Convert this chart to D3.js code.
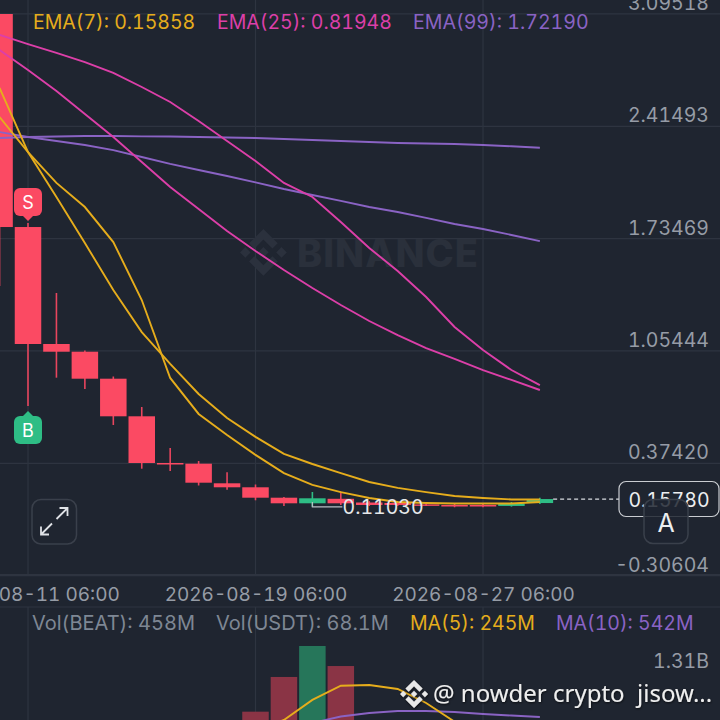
<!DOCTYPE html>
<html><head><meta charset="utf-8">
<script src="https://cdn.jsdelivr.net/npm/d3@7"></script>
<style>html,body{margin:0;padding:0;background:#1f2530}svg{display:block}text{font-family:Inter,sans-serif;font-variant-numeric:tabular-nums;font-feature-settings:"tnum"}</style>
</head><body><svg id="c" width="720" height="720"></svg>
<script>
const dates=["08-10","08-11","08-12","08-13","08-14","08-15","08-16","08-17","08-18","08-19","08-20","08-21","08-22","08-23","08-24","08-25","08-26","08-27","08-28","08-29"];
const open =[3.095,1.805,1.0966,1.050,0.8865,0.6588,0.376,0.3718,0.2531,0.2289,0.1659,0.132,0.1593,0.1368,0.134,0.125,0.1217,0.1217,0.116,0.1335];
const close=[1.805,1.0966,1.050,0.8865,0.6588,0.376,0.3669,0.2567,0.2289,0.1659,0.132,0.1623,0.132,0.1217,0.122,0.1217,0.1126,0.1126,0.131,0.1578];
const high =[3.095,1.83,1.4055,1.0573,0.8998,0.7151,0.4669,0.3881,0.3197,0.2458,0.1701,0.2004,0.2035,0.145,0.14,0.135,0.128,0.128,0.14,0.165];
const low  =[1.448,0.721,0.8926,0.8242,0.6061,0.3415,0.3276,0.2398,0.2143,0.1501,0.1156,0.1103,0.1217,0.116,0.116,0.115,0.108,0.108,0.112,0.128];
const ema7a =[2.647,2.259,1.987,1.708,1.424,1.169,0.976,0.794,0.649,0.534,0.431,0.370,0.315,0.261,0.225,0.200,0.176,0.164,0.155,0.155];
const ema7b =[2.471,2.259,2.072,1.926,1.714,1.363,0.891,0.673,0.546,0.425,0.315,0.243,0.200,0.164,0.140,0.134,0.131,0.131,0.131,0.140];
const ema25a=[2.968,2.913,2.859,2.804,2.738,2.653,2.562,2.447,2.326,2.205,2.072,1.987,1.835,1.678,1.539,1.381,1.200,1.060,0.939,0.848];
const ema25b=[2.877,2.756,2.629,2.489,2.350,2.199,2.047,1.914,1.781,1.660,1.545,1.436,1.333,1.236,1.151,1.072,1.006,0.939,0.879,0.818];
const ema99a=[2.344,2.350,2.353,2.356,2.356,2.354,2.353,2.350,2.347,2.344,2.338,2.332,2.326,2.320,2.314,2.311,2.308,2.302,2.294,2.285];
const ema99b=[2.380,2.350,2.326,2.302,2.271,2.229,2.187,2.150,2.114,2.075,2.035,1.999,1.963,1.926,1.896,1.860,1.823,1.793,1.757,1.720];
const volume=[400,420,380,340,320,300,280,360,372,615,1091,1516,1241,442,340,250,200,210,320,458];
const ma5 =[null,null,null,null,null,null,null,null,null,360,501,776,971,981,926,734,477,350,280,245];
const ma10=[null,null,null,null,null,null,null,null,null,null,null,460,549,597,624,624,610,583,562,542];
const priceTicks=[3.09518,2.41493,1.73469,1.05444,0.37420,-0.30604];
const timeTicks=["08-11","08-19","08-27"];
const volTicks=[1310];
const legendTop=[["EMA(7): 0.15858",33,"#e6ad1c",19.5],["EMA(25): 0.81948",217,"#dc3fa8",19.5],["EMA(99): 1.72190",413,"#8a63c4",19.6]];
const legendVol=[["Vol(BEAT): 458M",32,"#7e8794",20],["Vol(USDT): 68.1M",216,"#7e8794",20],["MA(5): 245M",410,"#e6ad1c",19.5],["MA(10): 542M",556,"#8a63c4",19.5]];
const lowPrice=0.11030, lastPrice=0.15780;

const BG="#1f2530",GRID="#2e3440",RED="#fb4a63",GREEN="#2ebd85",AX="#969ca6";
const LOGO="M16.624 13.9202l2.7175 2.7154-7.353 7.353-7.353-7.352 2.7175-2.7164 4.6355 4.6595 4.6356-4.6595zm4.6366-4.6366L24 12l-2.7154 2.7164L18.5682 12l2.6924-2.7164zm-9.272.001l2.7163 2.6914-2.7164 2.7174v-.001L9.2721 12l2.7164-2.7154zm-9.2722-.001L5.4088 12l-2.6914 2.6924L0 12l2.7164-2.7164zM11.9885.0115l7.353 7.329-2.7174 2.7154-4.6356-4.6356-4.6355 4.6595-2.7174-2.7154 7.353-7.353z";
const d=s=>new Date("2026-"+s+"T06:00:00Z");
const x=d3.scaleUtc().domain([d("08-11"),d("08-27")]).range([28,483]);
const y=d3.scaleLinear().domain([0.37420,2.41493]).range([463.3,126.3]);
const yv=d3.scaleLinear().domain([0,1310]).range([756.5,661]);
const svg=d3.select("#c");
svg.append("rect").attr("width",720).attr("height",720).attr("fill",BG);
const defs=svg.append("defs");
defs.append("clipPath").attr("id","pc").append("rect").attr("x",0).attr("y",14).attr("width",720).attr("height",561);

// grid
const g=svg.append("g").attr("stroke",GRID).attr("stroke-width",1.2);
priceTicks.forEach(t=>g.append("line").attr("x1",0).attr("x2",720).attr("y1",y(t)).attr("y2",y(t)));
g.selectAll(".v").data(timeTicks).join("g").each(function(t){
  const s=d3.select(this),X=x(d(t));
  s.append("line").attr("x1",X).attr("x2",X).attr("y1",0).attr("y2",575);
  s.append("line").attr("x1",X).attr("x2",X).attr("y1",607).attr("y2",720);
});
g.append("line").attr("x1",0).attr("x2",720).attr("y1",607).attr("y2",607);

// watermark
svg.append("path").attr("d",LOGO).attr("fill","#2b313d").attr("transform","translate(240,229) scale(1.95)");
svg.append("text").attr("x",297).attr("y",267).attr("font-size",38).attr("font-weight",800).attr("letter-spacing",1).attr("fill","#2a303b").text("BINANCE");

// candles
const I=d3.range(dates.length);
const pc=svg.append("g").attr("clip-path","url(#pc)");
const W=26.5;
pc.selectAll(".w").data(I).join("line").attr("x1",i=>x(d(dates[i]))).attr("x2",i=>x(d(dates[i])))
  .attr("y1",i=>y(high[i])).attr("y2",i=>y(low[i])).attr("stroke-width",1.6)
  .attr("stroke",i=>close[i]>=open[i]?GREEN:"#e8455e");
pc.selectAll(".b").data(I).join("rect").attr("x",i=>x(d(dates[i]))-W/2).attr("width",W)
  .attr("y",i=>y(Math.max(open[i],close[i])))
  .attr("height",i=>Math.max(1.4,Math.abs(y(open[i])-y(close[i]))))
  .attr("fill",i=>close[i]>=open[i]?GREEN:RED);

// low marker
const lx=x(d("08-21")),ly=y(lowPrice);
svg.append("path").attr("d",d3.line()([[lx,ly-5],[lx,ly],[lx+30,ly]])).attr("fill","none").attr("stroke","#b9bdc4").attr("stroke-width",1.2);
svg.append("text").attr("x",342.5).attr("y",ly+7.5).attr("font-size",19.5).attr("fill","#e6e8ea").text(lowPrice.toFixed(5));

// ema lines
const ln=a=>d3.line().defined(v=>v!=null).x((v,i)=>x(d(dates[i]))).y(v=>y(v))(a);
[[ema99a,"#8a63c4"],[ema99b,"#8a63c4"],[ema25a,"#dc3fa8"],[ema25b,"#dc3fa8"],[ema7a,"#e6ad1c"],[ema7b,"#e6ad1c"]].forEach(([a,c])=>
  pc.append("path").attr("d",ln(a)).attr("fill","none").attr("stroke",c).attr("stroke-width",1.9));

// S / B tags
function tag(i,yTop,col,txt,up){
  const X=x(d(dates[i]));
  const t=svg.append("g").attr("transform",`translate(${X},${yTop})`);
  t.append("rect").attr("x",-14).attr("y",0).attr("width",28).attr("height",28).attr("rx",6).attr("fill",col);
  t.append("path").attr("d",up?"M-6 1L0 -5L6 1Z":"M-6 27L0 33L6 27Z").attr("fill",col);
  t.append("text").attr("text-anchor","middle").attr("y",21).attr("font-size",18).attr("fill","#fff").text(txt);
}
tag(1,188,RED,"S",false);
tag(1,416,GREEN,"B",true);

// expand button
const ex=svg.append("g");
ex.append("rect").attr("x",32).attr("y",499.5).attr("width",44.5).attr("height",44.5).attr("rx",9).attr("fill",BG).attr("stroke","#3a404b").attr("stroke-width",1.5);
ex.append("path").attr("d","M41 534.5L52 523.5M41 526.5V534.5H49M56.5 519L67.5 508M59.5 508H67.5V516").attr("fill","none").attr("stroke","#dfe2e6").attr("stroke-width",1.8);

// price axis
const ax=d3.axisRight(y).tickValues(priceTicks).tickSize(0).tickFormat(d3.format(".5f"));
const axg=svg.append("g").call(ax);
axg.select(".domain").remove();
axg.selectAll("text").attr("x",709).attr("text-anchor","end").attr("dy",-4.5).attr("font-size",19.5).attr("fill",AX)
  .text(t=>t.toFixed(5));

// time axis
const tx=d3.axisBottom(x).tickValues(timeTicks.map(d)).tickSize(0).tickFormat(t=>d3.utcFormat("%Y-%m-%d %H:%M")(t));
const txg=svg.append("g").attr("transform","translate(0,575)").call(tx);
txg.select(".domain").attr("stroke",GRID).attr("stroke-width",2).attr("d","M0 0H720");
txg.selectAll("text").attr("y",25.5).attr("dy",0).attr("font-size",19).attr("fill",AX);

// legends
legendTop.forEach(([t,X,c,s])=>svg.append("text").attr("x",X).attr("y",29).attr("font-size",s).attr("fill",c).text(t));
legendVol.forEach(([t,X,c,s])=>svg.append("text").attr("x",X).attr("y",630).attr("font-size",s).attr("fill",c).text(t));

// volume
const vp=svg.append("g");
vp.selectAll("rect").data(I).join("rect").attr("x",i=>x(d(dates[i]))-W/2).attr("width",W)
  .attr("y",i=>yv(volume[i])).attr("height",i=>yv(0)-yv(volume[i]))
  .attr("fill",i=>close[i]>=open[i]?"#26765a":"#8a3445");
const lv=a=>d3.line().defined(v=>v!=null).x((v,i)=>x(d(dates[i]))).y(v=>yv(v))(a);
vp.append("path").attr("d",lv(ma10)).attr("fill","none").attr("stroke","#8a63c4").attr("stroke-width",1.9);
vp.append("path").attr("d",lv(ma5)).attr("fill","none").attr("stroke","#e6ad1c").attr("stroke-width",1.9);
svg.append("text").attr("x",709).attr("y",668).attr("text-anchor","end").attr("font-size",19.5).attr("fill",AX)
  .text(d3.format(".2f")(volTicks[0]/1000)+"B");

// current price
const py=y(lastPrice), lastX=x(d(dates[19]))+W/2;
svg.append("line").attr("x1",lastX).attr("x2",619).attr("y1",py).attr("y2",py).attr("stroke","#d8dbdf").attr("stroke-width",1.2).attr("stroke-dasharray","4 3");
svg.append("rect").attr("x",619).attr("y",481.5).attr("width",100).attr("height",35).attr("rx",7).attr("fill",BG).attr("stroke","#c9ccd1").attr("stroke-width",1.2);
svg.append("text").attr("x",669).attr("y",506.5).attr("text-anchor","middle").attr("font-size",19.5).attr("fill","#eceef0").text(lastPrice.toFixed(5));
svg.append("rect").attr("x",644).attr("y",499.5).attr("width",44).attr("height",44).attr("rx",9).attr("fill",BG).attr("fill-opacity",0.85).attr("stroke","#3a404b").attr("stroke-width",1.5);
svg.append("text").attr("x",666).attr("y",532).attr("text-anchor","middle").attr("font-size",25).attr("fill","#eceef0").text("A");

// bottom watermark
defs.append("filter").attr("id","sh").append("feDropShadow").attr("dx",0.5).attr("dy",1).attr("stdDeviation",1).attr("flood-color","#000").attr("flood-opacity",0.7);
svg.append("path").attr("d",LOGO).attr("fill","#e8e8e8").attr("filter","url(#sh)").attr("transform","translate(400,680) scale(1.17)");
svg.append("text").attr("x",433).attr("y",702).attr("font-size",24).attr("fill","#eeeeee").attr("filter","url(#sh)").style("font-family","'Noto Sans',sans-serif").style("white-space","pre").text("@ nowder crypto  jisow...");
</script></body></html>
